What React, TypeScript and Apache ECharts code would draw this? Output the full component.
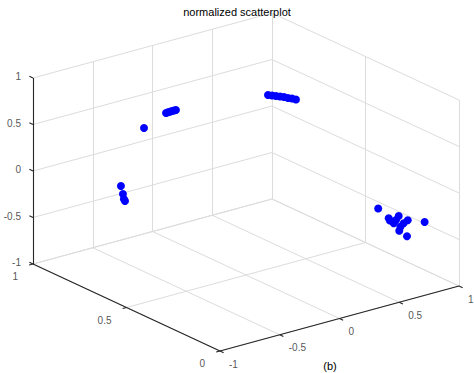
import React, { useEffect, useRef } from "react";
import * as echarts from "echarts";

const titleText = "normalized scatterplot";
const captionText = "(b)";

const xTicks = [-1, -0.5, 0, 0.5, 1];
const yTicks = [0, 0.5, 1];
const zTicks = [-1, -0.5, 0, 0.5, 1];
const xTickLabels = ["-1", "-0.5", "0", "0.5", "1"];
const yTickLabels = ["0", "0.5", "1"];
const zTickLabels = ["-1", "-0.5", "0", "0.5", "1"];

// 3D point coordinates
const pointX = [
  0.184, 0.218, 0.251, 0.285, 0.318, 0.351, 0.385, 0.418,
  -0.384, -0.278, -0.262, -0.245, -0.228, -0.211, -0.195,
  -0.546, -0.529, -0.521, -0.512,
  0.84, 0.834, 0.871, 0.884, 0.829, 0.838, 0.813, 0.815, 0.9, 0.829, 0.849, 0.85,
];
const pointY = [
  0.5, 0.5, 0.5, 0.5, 0.5, 0.5, 0.5, 0.5,
  0.8, 0.75, 0.75, 0.75, 0.75, 0.75, 0.75,
  0.82, 0.82, 0.82, 0.82,
  0.33, 0.27, 0.24, 0.2, 0.24, 0.21, 0.2, 0.16, 0.12, 0.26, 0.24, 0.2,
];
const pointZ = [
  0.871, 0.854, 0.837, 0.82, 0.803, 0.781, 0.763, 0.741,
  0.434, 0.605, 0.607, 0.607, 0.609, 0.609, 0.608,
  -0.152, -0.243, -0.3, -0.325,
  -0.42, -0.467, -0.427, -0.44, -0.49, -0.502, -0.527, -0.55, -0.39, -0.48, -0.462, -0.46,
];

// view (layout) constants: screen position of the origin and of unit steps
const ORIGIN = [339.5, 225.5];
const EX = [119.5, -32.5];
const EY = [-187, -87];
const EZ = [0, -93];
const W = 474;
const H = 373;

function proj(x: number, y: number, z: number): number[] {
  return [
    ORIGIN[0] + x * EX[0] + y * EY[0] + z * EZ[0],
    ORIGIN[1] + x * EX[1] + y * EY[1] + z * EZ[1],
  ];
}
function unit(v: number[]) {
  const l = Math.hypot(v[0], v[1]);
  return [v[0] / l, v[1] / l];
}

export default function App() {
  const ref = useRef<HTMLDivElement>(null);
  useEffect(() => {
    document.body.style.margin = "0";
    if (!ref.current) return;
    const chart = echarts.init(ref.current, undefined, { renderer: "svg" });
    const xmin = xTicks[0], xmax = xTicks[xTicks.length - 1];
    const ymin = yTicks[0], ymax = yTicks[yTicks.length - 1];
    const zmin = zTicks[0], zmax = zTicks[zTicks.length - 1];

    const seg = (a: number[], b: number[]) => ({ coords: [proj(a[0], a[1], a[2]), proj(b[0], b[1], b[2])] });
    const grid: any[] = [];
    // back wall y = ymax
    zTicks.forEach((z) => grid.push(seg([xmin, ymax, z], [xmax, ymax, z])));
    xTicks.forEach((x) => grid.push(seg([x, ymax, zmin], [x, ymax, zmax])));
    // back wall x = xmax
    zTicks.forEach((z) => grid.push(seg([xmax, ymin, z], [xmax, ymax, z])));
    yTicks.forEach((y) => grid.push(seg([xmax, y, zmin], [xmax, y, zmax])));
    // floor z = zmin
    yTicks.forEach((y) => grid.push(seg([xmin, y, zmin], [xmax, y, zmin])));
    xTicks.forEach((x) => grid.push(seg([x, ymin, zmin], [x, ymax, zmin])));

    const axes: any[] = [];
    axes.push(seg([xmin, ymax, zmin], [xmin, ymax, zmax]));
    axes.push(seg([xmin, ymax, zmin], [xmin, ymin, zmin]));
    axes.push(seg([xmin, ymin, zmin], [xmax, ymin, zmin]));
    const TL = 4;
    const uy = unit(EY);
    const ux = unit(EX);
    const tick = (p: number[], d: number[]) => ({ coords: [p, [p[0] + d[0] * TL, p[1] + d[1] * TL]] });
    zTicks.forEach((z) => axes.push(tick(proj(xmin, ymax, z), uy)));
    yTicks.forEach((y) => axes.push(tick(proj(xmin, y, zmin), [-ux[0], -ux[1]])));
    xTicks.forEach((x) => axes.push(tick(proj(x, ymin, zmin), [-uy[0], -uy[1]])));

    const font = 'Arial, "Liberation Sans", Helvetica, sans-serif';
    const labelItem = (p: number[], name: string, align: string, offset: number[]) => ({
      value: p,
      name,
      label: {
        show: true,
        formatter: "{b}",
        position: "inside",
        align,
        verticalAlign: "middle",
        offset,
        fontSize: 10,
        color: "#262626",
        fontFamily: font,
      },
    });
    const labels: any[] = [];
    zTicks.forEach((z, i) => labels.push(labelItem(proj(xmin, ymax, z), zTickLabels[i], "right", [-12, -1.5])));
    yTicks.forEach((y, i) => labels.push(labelItem(proj(xmin, y, zmin), yTickLabels[i], "right", [-15, 12.5])));
    xTicks.forEach((x, i) => labels.push(labelItem(proj(x, ymin, zmin), xTickLabels[i], "left", [9, 13])));

    const pts = pointX.map((x, i) => proj(x, pointY[i], pointZ[i]));

    chart.setOption({
      animation: false,
      backgroundColor: "#ffffff",
      title: {
        text: titleText,
        left: "center",
        top: 1,
        textStyle: { fontSize: 11, fontWeight: "normal", color: "#000", fontFamily: font },
      },
      grid: { left: 0, right: 0, top: 0, bottom: 0 },
      xAxis: { type: "value", min: 0, max: W, show: false },
      yAxis: { type: "value", min: 0, max: H, inverse: true, show: false },
      graphic: [
        {
          type: "text",
          x: 330,
          y: 366,
          style: {
            text: captionText,
            fontSize: 11,
            fill: "#000",
            fontFamily: font,
            align: "center",
            verticalAlign: "middle",
          },
        },
      ],
      series: [
        {
          type: "lines",
          coordinateSystem: "cartesian2d",
          silent: true,
          lineStyle: { color: "#dcdcdc", width: 1, opacity: 1 },
          data: grid,
          z: 1,
        },
        {
          type: "lines",
          coordinateSystem: "cartesian2d",
          silent: true,
          lineStyle: { color: "#262626", width: 1.1, opacity: 1 },
          data: axes,
          z: 2,
        },
        {
          type: "scatter",
          silent: true,
          symbol: "circle",
          symbolSize: 1,
          itemStyle: { color: "rgba(0,0,0,0)" },
          data: labels,
          z: 3,
        },
        {
          type: "scatter",
          silent: true,
          symbol: "circle",
          symbolSize: 8,
          itemStyle: { color: "#0000ff", opacity: 1 },
          data: pts,
          z: 4,
        },
      ],
    });
    return () => chart.dispose();
  }, []);
  return <div ref={ref} style={{ width: W, height: H }} />;
}
